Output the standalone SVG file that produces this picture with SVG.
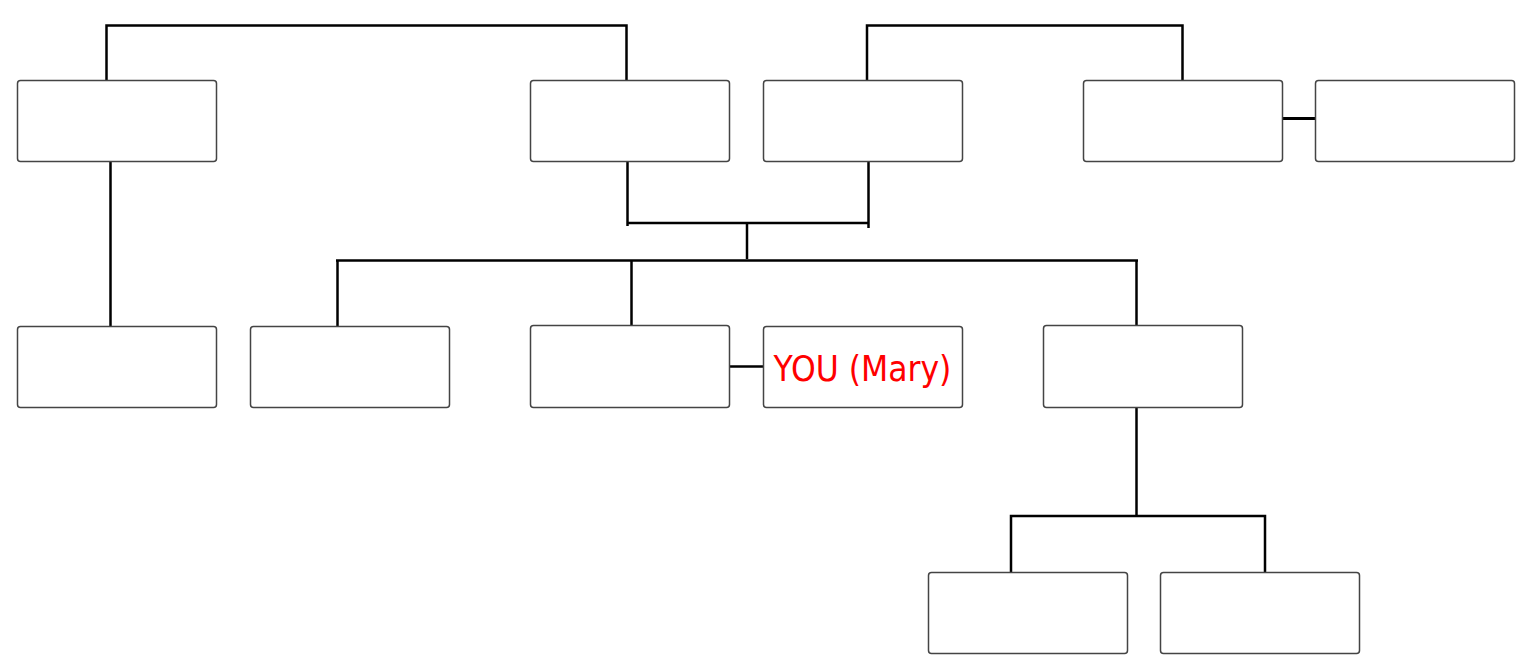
<svg xmlns="http://www.w3.org/2000/svg" width="1536" height="671" viewBox="0 0 1536 671">
<style>
.box{fill:#fff;stroke:#444;stroke-width:1.5}
.ln{fill:none;stroke:#000;stroke-width:2.5;stroke-linecap:butt;stroke-linejoin:miter}
.you{font-family:"DejaVu Sans Condensed","DejaVu Sans",sans-serif;font-size:35px;fill:#ff0000}
</style>
<rect width="1536" height="671" fill="#fff"/>
<g id="connectors">
<polyline class="ln" points="106.5,80 106.5,25.5 626.5,25.5 626.5,80"/>
<polyline class="ln" points="867,80 867,25.5 1182.5,25.5 1182.5,80"/>
<line class="ln" x1="1282" y1="118.5" x2="1315" y2="118.5" style="stroke-width:3"/>
<line class="ln" x1="110.5" y1="161" x2="110.5" y2="326"/>
<polyline class="ln" points="627.5,161 627.5,226"/>
<polyline class="ln" points="868.5,161 868.5,228"/>
<line class="ln" x1="627.5" y1="223" x2="868.5" y2="223"/>
<line class="ln" x1="747" y1="224" x2="747" y2="259"/>
<line class="ln" x1="336" y1="260.5" x2="1138" y2="260.5"/>
<line class="ln" x1="337.5" y1="260" x2="337.5" y2="326"/>
<line class="ln" x1="631.5" y1="260" x2="631.5" y2="325"/>
<line class="ln" x1="1136.5" y1="260" x2="1136.5" y2="325"/>
<line class="ln" x1="729" y1="366.5" x2="763" y2="366.5"/>
<line class="ln" x1="1136.5" y1="407" x2="1136.5" y2="516"/>
<polyline class="ln" points="1011,572 1011,516 1265,516 1265,572"/>
</g>
<g id="n1"><rect class="box" x="17.5" y="80.5" width="199" height="81" rx="3"/></g>
<g id="n2"><rect class="box" x="530.5" y="80.5" width="199" height="81" rx="3"/></g>
<g id="n3"><rect class="box" x="763.5" y="80.5" width="199" height="81" rx="3"/></g>
<g id="n4"><rect class="box" x="1083.5" y="80.5" width="199" height="81" rx="3"/></g>
<g id="n5"><rect class="box" x="1315.5" y="80.5" width="199" height="81" rx="3"/></g>
<g id="n6"><rect class="box" x="17.5" y="326.5" width="199" height="81" rx="3"/></g>
<g id="n7"><rect class="box" x="250.5" y="326.5" width="199" height="81" rx="3"/></g>
<g id="n8"><rect class="box" x="530.5" y="325.5" width="199" height="82" rx="3"/></g>
<g id="you"><rect class="box" x="763.5" y="326.5" width="199" height="81" rx="3"/>
<text class="you" x="862.5" y="381" text-anchor="middle">YOU (Mary)</text></g>
<g id="n10"><rect class="box" x="1043.5" y="325.5" width="199" height="82" rx="3"/></g>
<g id="n11"><rect class="box" x="928.5" y="572.5" width="199" height="81" rx="3"/></g>
<g id="n12"><rect class="box" x="1160.5" y="572.5" width="199" height="81" rx="3"/></g>
</svg>
